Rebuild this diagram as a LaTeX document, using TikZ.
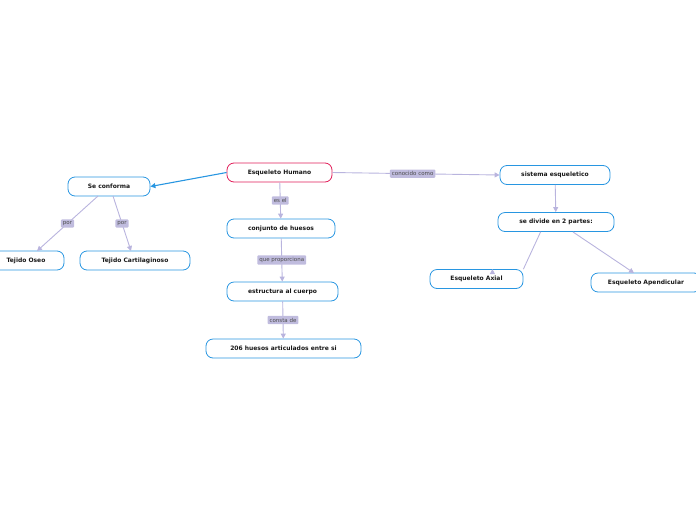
\documentclass[tikz,border=0pt]{standalone}
\usepackage{fontspec}
\setmainfont{DejaVu Sans}
\usetikzlibrary{arrows.meta}
\definecolor{nb}{RGB}{40,150,225}
\definecolor{nr}{RGB}{225,30,90}
\definecolor{ed}{RGB}{185,180,222}
\definecolor{lb}{RGB}{192,188,222}
\tikzset{
 box/.style={draw=nb,line width=0.8pt,rounded corners=7pt,fill=white,minimum height=19pt,font=\bfseries\fontsize{6}{7}\selectfont,inner sep=2pt,text=black!90},
 lab/.style={fill=lb,rounded corners=1pt,font=\fontsize{5.5}{6}\selectfont,text=black!70,inner sep=2pt},
 con/.style={draw=ed,line width=0.9pt,-{Triangle[width=5pt,length=5pt]}},
}
\begin{document}
\begin{tikzpicture}[x=1pt,y=-1pt]
\useasboundingbox (0,0) rectangle (696,520);
\node[box,draw=nr,minimum width=105pt] (eh) at (279.5,172.5) {Esqueleto Humano};
\node[box,minimum width=82pt] (sc) at (109,186.5) {Se conforma};
\node[box,minimum width=76pt] (to) at (26,260.5) {Tejido Oseo};
\node[box,minimum width=110pt] (tc) at (135,260.5) {Tejido Cartilaginoso};
\node[box,minimum width=108pt] (ch) at (281,228.5) {conjunto de huesos};
\node[box,minimum width=111pt] (ec) at (282.5,291.5) {estructura al cuerpo};
\node[box,minimum width=155pt] (hu) at (283.5,348.5) {206 huesos articulados entre si};
\node[box,minimum width=110pt] (se) at (555,175) {sistema esqueletico};
\node[box,minimum width=116pt] (sd) at (556,222) {se divide en 2 partes:};
\node[box,minimum width=93pt] (ax) at (476.5,279) {Esqueleto Axial};
\node[box,minimum width=110pt] (ap) at (646,282.5) {Esqueleto Apendicular};

\draw[draw=nb,line width=1.1pt,-{Triangle[width=5pt,length=5pt]}] (eh.west) -- (sc.east);
\draw[con] (eh) -- node[lab]{es el} (ch);
\draw[con] (ch) -- node[lab]{que proporciona} (ec);
\draw[con] (ec) -- node[lab]{consta de} (hu);
\draw[con] (eh.east) -- node[lab,pos=0.48]{conocido como} (se.west);
\draw[con] (se) -- (sd);
\draw[con] (sd.south west)++(43,0) coordinate (s1) -- (ax.north east)++(-31,0) coordinate (a1);
\draw[con] (556,232) ++(17,0) coordinate (s2) -- (634,273) coordinate (a2);
\path (98,196) coordinate (c1) (37,251) coordinate (o1) (113,196) coordinate (c2) (131,251) coordinate (o2);
\draw[con] (c1) -- node[lab]{por} (o1);
\draw[con] (c2) -- node[lab]{por} (o2);
\end{tikzpicture}
\end{document}
